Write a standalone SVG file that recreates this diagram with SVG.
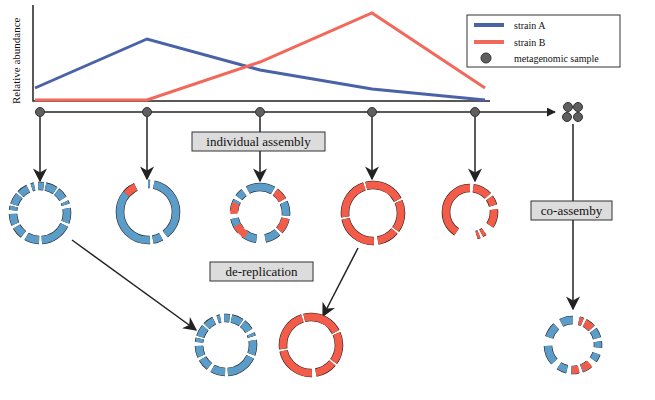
<svg xmlns="http://www.w3.org/2000/svg" width="655" height="400" viewBox="0 0 655 400">
<style>
.t{font-family:"Liberation Serif",serif;fill:#111}
.box{fill:#dcdcdc;stroke:#333;stroke-width:1}
.c{stroke:#222;stroke-width:1.5;fill:none}
.k{fill:none;stroke:#222;stroke-width:8.6}
.b{fill:none;stroke:#5b9cc8;stroke-width:7.4}
.r{fill:none;stroke:#f25c48;stroke-width:7.4}
.dot{fill:#5f5f5f;stroke:#333}
</style>
<defs>
<marker id="a" viewBox="0 0 10 10" refX="9" refY="5" markerWidth="9" markerHeight="9" orient="auto" markerUnits="userSpaceOnUse"><path d="M0,0L10,5L0,10z" fill="#222"/></marker>
<marker id="a2" viewBox="0 0 10 10" refX="9" refY="5" markerWidth="14" markerHeight="14" orient="auto" markerUnits="userSpaceOnUse"><path d="M0,0L10,5L0,10L3,5z" fill="#222"/></marker>
</defs>
<rect width="655" height="400" fill="#fff"/>
<g id="chart">
<path class="c" d="M33,5V101H490" stroke-width="1"/>
<polyline points="35,88 147,39 260,70 372,89 485,100" fill="none" stroke="#4a63a6" stroke-width="3"/>
<polyline points="35,100 147,100 260,62 372,13 485,88" fill="none" stroke="#f2685a" stroke-width="3"/>
<text class="t" font-size="11" transform="translate(20,104) rotate(-90)">Relative abundance</text>
</g>
<g id="legend">
<rect x="467" y="15" width="153" height="52" fill="#fff" stroke="#333"/>
<line x1="474" y1="25" x2="504" y2="25" stroke="#4a63a6" stroke-width="4"/>
<line x1="474" y1="42" x2="504" y2="42" stroke="#f2685a" stroke-width="4"/>
<circle cx="486" cy="58" r="5" class="dot"/>
<text class="t" x="514" y="29" font-size="10">strain A</text>
<text class="t" x="514" y="46" font-size="10">strain B</text>
<text class="t" x="514" y="62" font-size="10">metagenomic sample</text>
</g>
<g id="connectors">
<line class="c" x1="35" y1="112" x2="555" y2="112" marker-end="url(#a)"/>
<line class="c" x1="40" y1="117" x2="40" y2="181" marker-end="url(#a2)"/>
<line class="c" x1="147" y1="117" x2="147" y2="179" marker-end="url(#a2)"/>
<line class="c" x1="260" y1="117" x2="260" y2="181" marker-end="url(#a2)"/>
<line class="c" x1="372" y1="117" x2="372" y2="179" marker-end="url(#a2)"/>
<line class="c" x1="475" y1="117" x2="475" y2="181" marker-end="url(#a2)"/>
<line class="c" x1="573" y1="124" x2="573" y2="309" marker-end="url(#a2)"/>
<line class="c" x1="72" y1="240" x2="196" y2="330" marker-end="url(#a2)"/>
<line class="c" x1="358" y1="248" x2="323" y2="316" marker-end="url(#a2)"/>
</g>
<g id="samples">
<circle cx="40" cy="112" r="4.5" class="dot"/><circle cx="147" cy="112" r="4.5" class="dot"/><circle cx="260" cy="112" r="4.5" class="dot"/><circle cx="372" cy="112" r="4.5" class="dot"/><circle cx="475" cy="112" r="4.5" class="dot"/>
<circle cx="568" cy="107" r="4.5" class="dot"/><circle cx="578" cy="107" r="4.5" class="dot"/><circle cx="567" cy="117" r="4.5" class="dot"/><circle cx="578" cy="117" r="4.5" class="dot"/>
</g>
<g id="labels">
<rect class="box" x="192" y="132" width="133" height="19"/><text class="t" x="258.5" y="146" font-size="13" text-anchor="middle">individual assembly</text>
<rect class="box" x="210" y="262" width="103" height="19"/><text class="t" x="261.5" y="276" font-size="13" text-anchor="middle">de-replication</text>
<rect class="box" x="531" y="201" width="81" height="19"/><text class="t" x="571.5" y="215" font-size="13" text-anchor="middle">co-assemby</text>
</g>
<g id="ring1" transform="translate(40,213) rotate(-90)">
<circle r="27" pathLength="360" class="k" stroke-dasharray="8 4 22 4 20 8 6 8 30 6 60 6 28 8 22 6 22 8"/>
<circle r="27" pathLength="360" class="b" stroke-dasharray="8 4 22 4 20 8 6 8 30 6 60 6 28 8 22 6 22 8"/>
</g>
<g id="ring2" transform="translate(148,212) rotate(-90)">
<circle r="28" pathLength="360" class="k" stroke-dasharray="8 8 130 10 18 6 150 8 0 360" stroke-dashoffset="4"/>
<circle r="28" pathLength="360" class="b" stroke-dasharray="8 8 130 10 18 6 150 8 0 360" stroke-dashoffset="4"/>
<circle r="28" pathLength="360" class="k" stroke-dasharray="24 400" stroke-dashoffset="-310"/>
<circle r="28" pathLength="360" class="r" stroke-dasharray="24 400" stroke-dashoffset="-310"/>
</g>
<g id="ring3" transform="translate(260,213) rotate(-90)">
<circle r="26" pathLength="360" class="k" stroke-dasharray="30 6 24 6 30 6 30 6 30 20 30 10 30 16 24 8 16 10"/>
<circle r="26" pathLength="360" class="b" stroke-dasharray="30 6 24 6 30 6 30 6 30 20 30 10 30 16 24 8 16 10"/>
<circle r="26" pathLength="360" class="r" stroke-dasharray="0 36 24 42 30 80 30 26 24 68"/>
</g>
<g id="ring4" transform="translate(373,213) rotate(-90)">
<circle r="28" pathLength="360" class="k" stroke-dasharray="60 4 60 4 40 8 80 4 80 4 16 0" stroke-dashoffset="-2"/>
<circle r="28" pathLength="360" class="r" stroke-dasharray="60 4 60 4 40 8 80 4 80 4 16 0" stroke-dashoffset="-2"/>
</g>
<g id="ring5" transform="translate(470,212) rotate(-90)">
<circle r="24" pathLength="360" class="k" stroke-dasharray="0 8 40 6 20 10 40 20 8 6 6 50 150 12"/>
<circle r="24" pathLength="360" class="r" stroke-dasharray="0 8 40 6 20 10 40 20 8 6 6 50 150 12"/>
</g>
<g id="ring6" transform="translate(226,345) rotate(-90)">
<circle r="27" pathLength="360" class="k" stroke-dasharray="8 4 22 4 20 8 6 8 30 6 60 6 28 8 22 6 22 8"/>
<circle r="27" pathLength="360" class="b" stroke-dasharray="8 4 22 4 20 8 6 8 30 6 60 6 28 8 22 6 22 8"/>
</g>
<g id="ring7" transform="translate(311,345) rotate(-90)">
<circle r="28" pathLength="360" class="k" stroke-dasharray="60 4 60 4 40 8 80 4 80 4 16 0" stroke-dashoffset="-2"/>
<circle r="28" pathLength="360" class="r" stroke-dasharray="60 4 60 4 40 8 80 4 80 4 16 0" stroke-dashoffset="-2"/>
</g>
<g id="ring8" transform="translate(573,345) rotate(-90)">
<circle r="25" pathLength="360" class="k" stroke-dasharray="0 14 8 6 20 6 20 8 14 14 16 14 20 8 16 10 20 14 40 20 30 14 28 8"/>
<circle r="25" pathLength="360" class="b" stroke-dasharray="0 14 8 6 20 6 20 8 14 14 16 14 20 8 16 10 20 14 40 20 30 14 28 8"/>
<circle r="25" pathLength="360" class="r" stroke-dasharray="0 14 8 6 20 36 0 90 0 360"/>
<circle r="25" pathLength="360" class="r" stroke-dasharray="0 138 20 8 16 400"/>
</g>
</svg>
